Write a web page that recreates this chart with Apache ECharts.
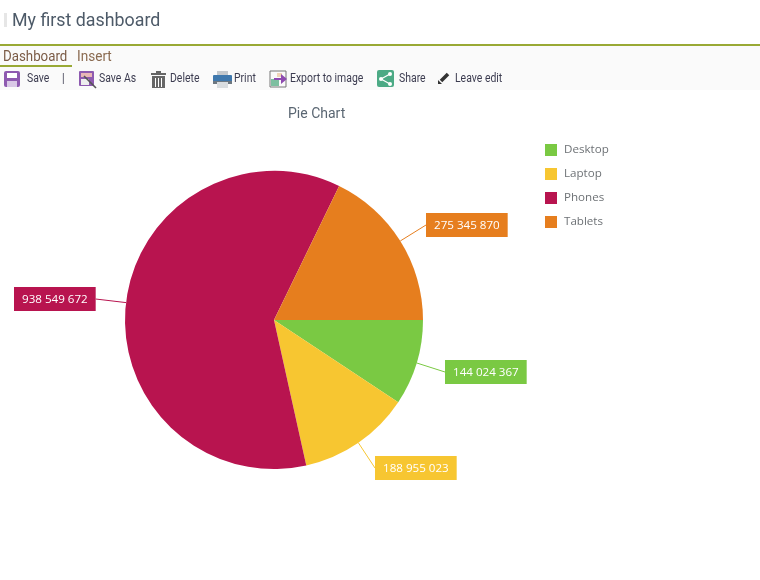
<!DOCTYPE html>
<html>
<head>
<meta charset="utf-8">
<title>My first dashboard</title>
<style>
  html, body { margin: 0; padding: 0; background: #fff; }
  #main { width: 760px; height: 580px; }
</style>
<script src="https://cdn.jsdelivr.net/npm/echarts@6/dist/echarts.min.js"></script>
</head>
<body>
<div id="main"></div>
<script>
// data
var categories = ['Desktop', 'Laptop', 'Phones', 'Tablets'];
var values = [144024367, 188955023, 938549672, 275345870];
var colors = ['#7ac943', '#f7c631', '#b8144f', '#e67e1e'];

// label box top-left corners, same order as categories
var labelPos = [[445, 360], [375, 456], [14, 287], [426, 213]];

// toolbar
var toolbarItems = [
  { text: 'Save', x: 27 },
  { text: '|', x: 62 },
  { text: 'Save As', x: 99 },
  { text: 'Delete', x: 170 },
  { text: 'Print', x: 234 },
  { text: 'Export to image', x: 290 },
  { text: 'Share', x: 399 },
  { text: 'Leave edit', x: 455 }
];

function spaced(v) {
  return String(v).replace(/\B(?=(\d{3})+$)/g, ' ');
}

function txt(text, x, y, size, color, sx) {
  return {
    type: 'text', x: x, y: y, scaleX: sx, silent: true,
    style: { text: text, fill: color, font: size + 'px Roboto', textVerticalAlign: 'middle' }
  };
}
function box(x, y, w, h, fill, r) {
  return { type: 'rect', silent: true, shape: { x: x, y: y, width: w, height: h, r: r || 0 }, style: { fill: fill } };
}
function frame(x, y, w, h, color, lw) {
  return { type: 'rect', silent: true, shape: { x: x, y: y, width: w, height: h }, style: { fill: 'none', stroke: color, lineWidth: lw || 2 } };
}
function seg(x1, y1, x2, y2, color, lw) {
  return { type: 'line', silent: true, shape: { x1: x1, y1: y1, x2: x2, y2: y2 }, style: { stroke: color, lineWidth: lw || 1 } };
}

var header = [
  box(0, 46, 760, 44, '#fafafa'),
  box(0, 44, 760, 2, '#99a935'),
  box(4, 13, 3, 14, '#e6e6e6'),
  txt('My first dashboard', 12, 21, 18, '#4d5a68', 0.99),
  txt('Dashboard', 3, 57, 14, '#7a5a45', 0.95),
  box(0, 65, 72, 2, '#99a935'),
  txt('Insert', 77, 57, 14, '#8a6a50', 0.97),

  // save
  box(4, 71, 16, 16, '#8e5ab0', 2), box(7, 73, 10, 5, '#fff'), box(7, 81, 10, 6, '#d9c8e6'),
  // save as
  box(79, 71, 15, 15, '#8e5ab0', 1), box(81, 73, 11, 4, '#e9b7b7'), box(81, 79, 8, 6, '#eee'),
  seg(84, 76, 96, 88, '#555', 1.6),
  // delete
  box(151, 73, 15, 2, '#666'), box(156, 71, 5, 2, '#666'), box(152, 76, 13, 12, '#666'),
  box(155, 78, 1, 9, '#fff'), box(158, 78, 1, 9, '#fff'), box(161, 78, 1, 9, '#fff'),
  // print
  box(217, 71, 11, 5, '#c4c8cc'), box(213, 75, 19, 9, '#3f78ad', 1), box(213, 81, 19, 3, '#6d7780'), box(217, 82, 11, 6, '#d8dcdf'),
  // export
  frame(270, 71, 16, 16, '#777', 1), box(271, 79, 8, 7, '#7dbfa0'), box(277, 73, 5, 4, '#f0d5b8'),
  box(274, 78, 9, 2, '#8e4bb0'),
  { type: 'polygon', silent: true, shape: { points: [[281, 74], [287, 79], [281, 84]] }, style: { fill: '#8e4bb0' } },
  // share
  box(377, 70, 17, 17, '#4caa85', 2),
  seg(381, 79, 390, 74, '#fff', 1.3), seg(381, 79, 390, 84, '#fff', 1.3),
  { type: 'circle', silent: true, shape: { cx: 381, cy: 79, r: 2 }, style: { fill: '#fff' } },
  { type: 'circle', silent: true, shape: { cx: 390, cy: 74, r: 2 }, style: { fill: '#fff' } },
  { type: 'circle', silent: true, shape: { cx: 390, cy: 84, r: 2 }, style: { fill: '#fff' } },
  // pencil
  seg(441, 81, 448, 74, '#333', 3.6),
  { type: 'polygon', silent: true, shape: { points: [[438, 84], [438, 80], [442, 84]] }, style: { fill: '#333' } }
];
toolbarItems.forEach(function (it) {
  header.push(txt(it.text, it.x, 79, 12, '#3c3c50', 0.87));
});

var chart = echarts.init(document.getElementById('main'));

var option = {
  animation: false,
  title: {
    text: 'Pie Chart',
    left: 288,
    top: 107,
    padding: 0,
    textStyle: { fontFamily: 'Roboto', fontSize: 14, fontWeight: 'normal', color: '#5a6672' }
  },
  legend: {
    orient: 'vertical',
    left: 545,
    top: 141,
    itemWidth: 12,
    itemHeight: 12,
    itemGap: 6,
    icon: 'rect',
    padding: 0,
    data: categories,
    textStyle: { fontFamily: 'Open Sans', fontSize: 11.6, color: '#6e7276', height: 18, lineHeight: 18, padding: [0, 0, 0, 2] }
  },
  graphic: { elements: header },
  series: [{
    type: 'pie',
    radius: 149,
    center: [274, 320],
    startAngle: 0,
    clockwise: true,
    data: categories.map(function (name, i) {
      return { name: name, value: values[i], itemStyle: { color: colors[i] } };
    }),
    label: {
      show: true,
      position: 'outside',
      formatter: function (p) { return spaced(p.value); },
      color: '#fff',
      fontFamily: 'Open Sans',
      fontSize: 11.6,
      lineHeight: 14,
      padding: [6, 8, 4, 8],
      backgroundColor: 'inherit'
    },
    labelLine: { show: true, length: 20, length2: 0, smooth: false, lineStyle: { width: 1 } },
    labelLayout: function (p) {
      var pos = labelPos[p.dataIndex];
      return { x: pos[0], y: pos[1], align: 'left', verticalAlign: 'top' };
    },
    emphasis: { disabled: true }
  }]
};

chart.setOption(option);
</script>
</body>
</html>
